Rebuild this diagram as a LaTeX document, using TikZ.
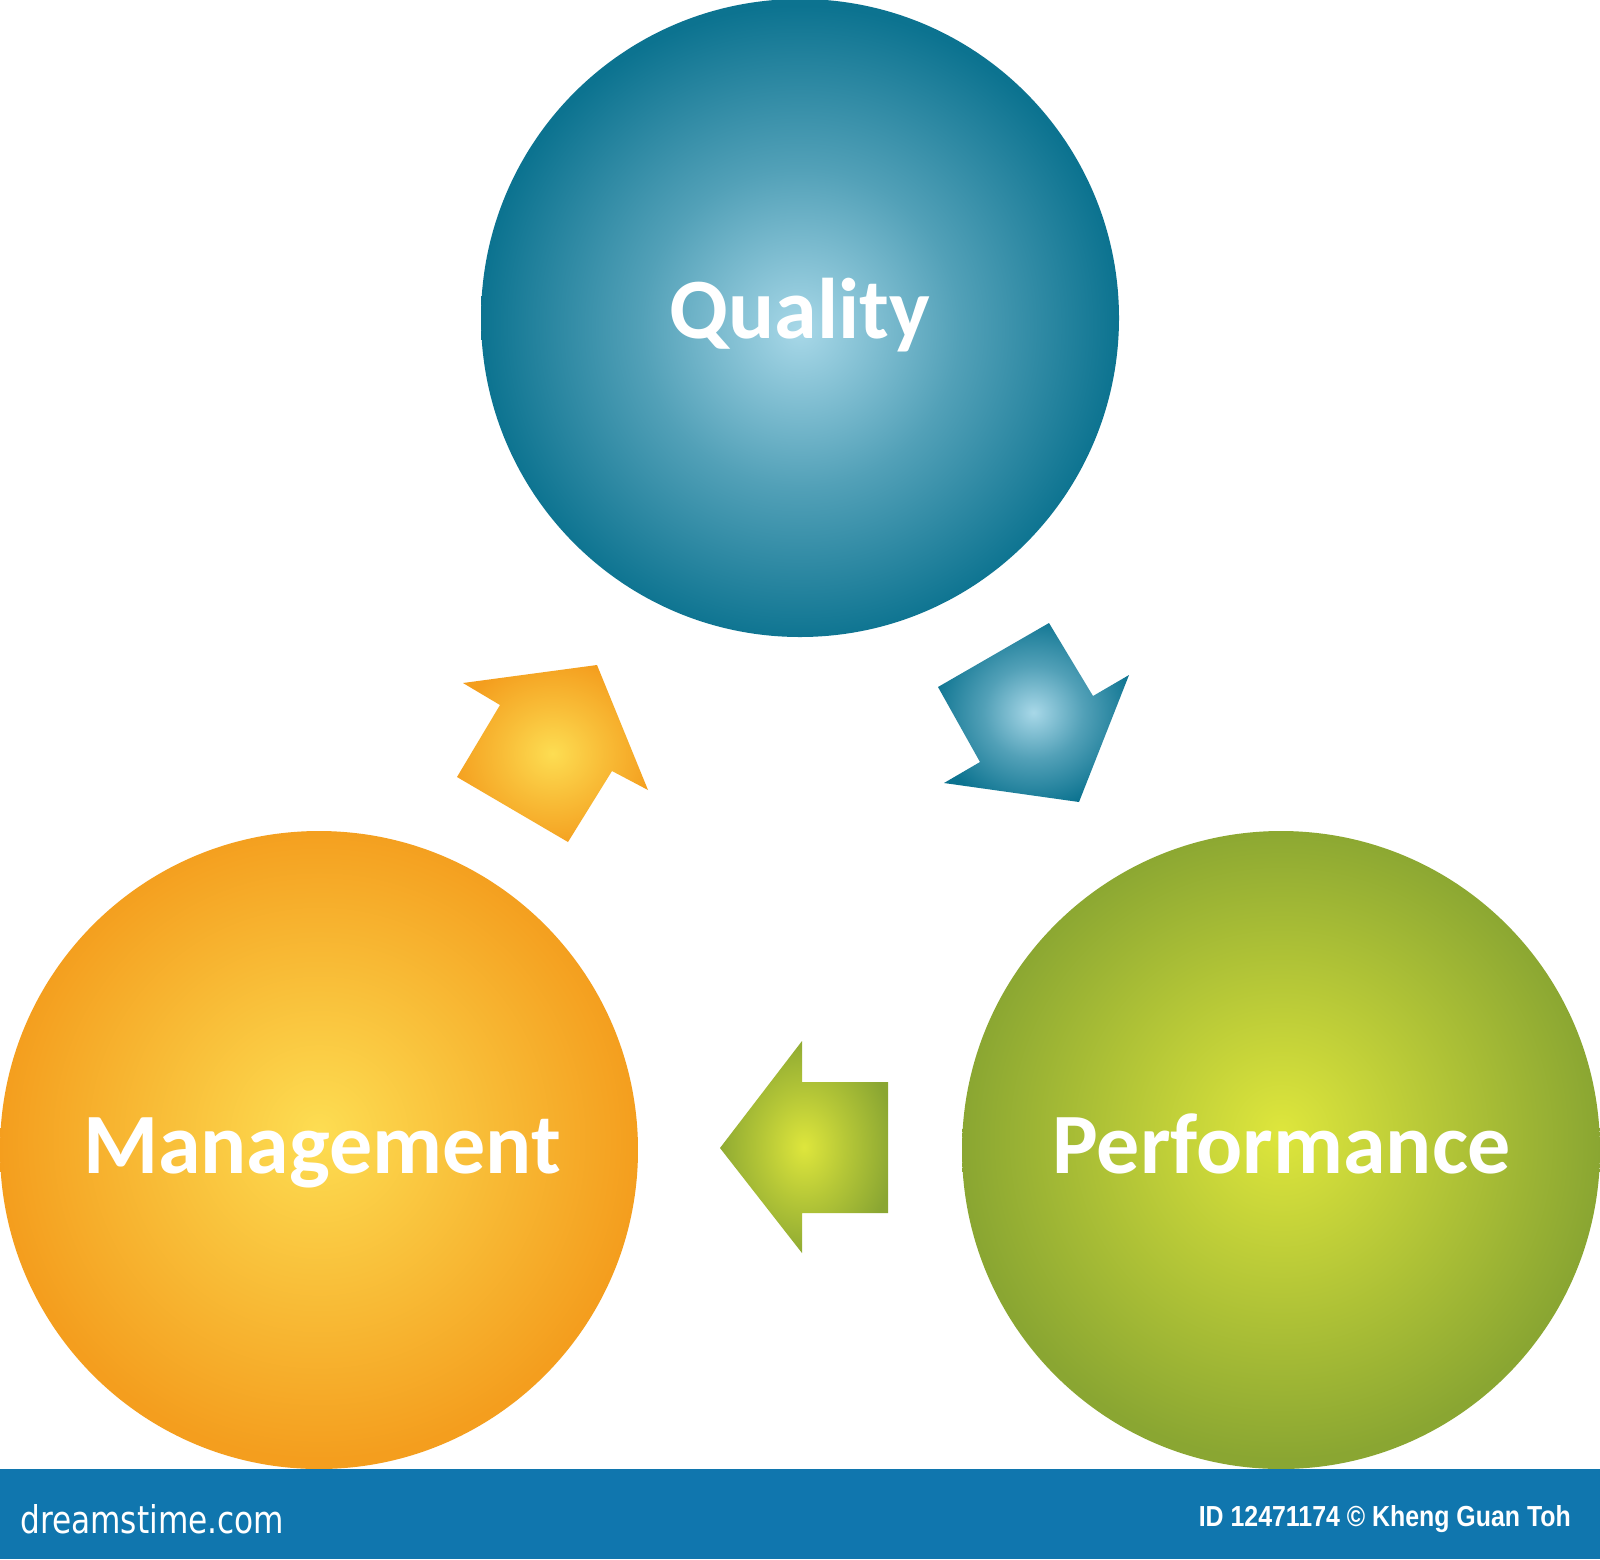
\documentclass[tikz,border=0pt]{standalone}
\usepackage{fontspec}
\setmainfont{Carlito}
\newfontfamily\barfont{Liberation Sans}
\newfontfamily\logofont{DejaVu Sans}
\definecolor{qout}{HTML}{0C7390}
\definecolor{qin}{HTML}{A8D8E8}
\definecolor{mout}{HTML}{F49E1E}
\definecolor{min}{HTML}{FDDD52}
\definecolor{pout}{HTML}{8AA632}
\definecolor{pin}{HTML}{DEE63C}
\definecolor{barblue}{HTML}{1076AE}
\colorlet{qmid}{qin!45!qout}
\colorlet{mmid}{min!50!mout}
\colorlet{pmid}{pin!50!pout}
\pgfdeclareradialshading{qshade}{\pgfpoint{0bp}{-1bp}}{color(0bp)=(qin); color(12.5bp)=(qmid); color(25bp)=(qout); color(50bp)=(qout)}
\pgfdeclareradialshading{mshade}{\pgfpoint{0bp}{1.5bp}}{color(0bp)=(min); color(12.5bp)=(mmid); color(25bp)=(mout); color(50bp)=(mout)}
\pgfdeclareradialshading{pshade}{\pgfpoint{0bp}{1.5bp}}{color(0bp)=(pin); color(12.5bp)=(pmid); color(25bp)=(pout); color(50bp)=(pout)}
\pgfdeclareradialshading{qashade}{\pgfpoint{0bp}{0bp}}{color(0bp)=(qin); color(13bp)=(qmid); color(27bp)=(qout); color(50bp)=(qout)}
\pgfdeclareradialshading{mashade}{\pgfpoint{0bp}{0bp}}{color(0bp)=(min); color(13bp)=(mmid); color(27bp)=(mout); color(50bp)=(mout)}
\pgfdeclareradialshading{pashade}{\pgfpoint{0bp}{0bp}}{color(0bp)=(pin); color(13bp)=(pmid); color(27bp)=(pout); color(50bp)=(pout)}
\tikzset{
  ball/.style={circle, minimum size=638pt, inner sep=0pt, shade},
  lbl/.style={text=white, font=\fontsize{86}{90}\selectfont\bfseries, inner sep=0pt, anchor=base},
  bararrow/.style={shade}
}
\begin{document}
\begin{tikzpicture}[x=1pt,y=-1pt]
\useasboundingbox (0,0) rectangle (1600,1559);
\fill[white] (0,0) rectangle (1600,1559);
% circles
\node[ball, shading=qshade] (quality) at (800,318) {};
\node[ball, shading=mshade] (management) at (319,1150) {};
\node[ball, shading=pshade] (performance) at (1281,1150) {};
\node[lbl] (qualitytext) at (800,338) {Quality};
\node[lbl] (managementtext) at (322,1173) {Management};
\node[lbl] (performancetext) at (1282,1173) {Performance};
% block arrows
\shade[bararrow, shading=mashade] (500,705) -- (463,683) -- (597,665) -- (648,790) -- (612,771) -- (568,842) -- (457,777) -- cycle;
\shade[bararrow, shading=qashade] (1049,623) -- (1093,696) -- (1129,675) -- (1079,802) -- (944,783) -- (980,762) -- (938,687) -- cycle;
\shade[bararrow, shading=pashade] (720,1148) -- (802,1041) -- (802,1082) -- (888,1082) -- (888,1213) -- (802,1213) -- (802,1253) -- cycle;
% bottom bar
\fill[barblue] (0,1469) rectangle (1600,1559);
\node[text=white, inner sep=0pt, anchor=base west] (logo) at (20,1533) {\resizebox{264pt}{29pt}{\logofont dreamstime.com}};
\node[text=white, inner sep=0pt, anchor=base east] (credit) at (1571,1526) {\resizebox{372pt}{21pt}{\barfont\bfseries ID 12471174 © Kheng Guan Toh}};
\end{tikzpicture}
\end{document}
